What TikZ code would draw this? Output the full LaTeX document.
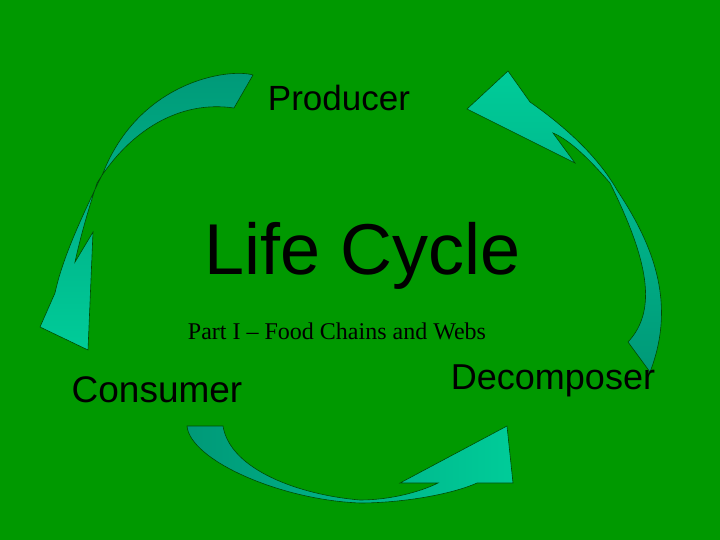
\documentclass[tikz,border=0pt]{standalone}
\usepackage{fontspec}
\setmainfont{Liberation Sans}
\newfontfamily\tnr{Liberation Serif}
\definecolor{bg}{RGB}{0,153,0}
\definecolor{tlight}{RGB}{0,204,153}
\definecolor{tdark}{RGB}{0,153,120}
\tikzset{arr/.style={draw=black!70!green,line width=0.6pt},
 lbl/.style={inner sep=0pt}}
\begin{document}
\begin{tikzpicture}[x=1pt,y=-1pt]
\fill[bg] (0,0) rectangle (720,540);
\useasboundingbox (0,0) rectangle (720,540);
% top-left arrow
\path[arr, top color=tdark, bottom color=tlight]
 (253,75) .. controls (230,68) and (140,80) .. (103,173)
 .. controls (80,220) and (62,260) .. (55,293)
 -- (40,327) -- (88,350) -- (93,232) -- (75,262)
 .. controls (82,230) and (90,205) .. (97,183)
 .. controls (130,130) and (180,100) .. (234,108) -- cycle;
% right arrow
\path[arr, top color=tlight, bottom color=tdark]
 (467,109) -- (508,71) -- (530,102)
 .. controls (570,130) and (600,160) .. (617,190)
 .. controls (650,240) and (678,300) .. (650,372)
 -- (628,342)
 .. controls (658,310) and (648,260) .. (610,183)
 .. controls (590,160) and (570,140) .. (553,133)
 -- (575,163) -- cycle;
% bottom arrow
\path[arr, left color=tdark, right color=tlight]
 (187,426) .. controls (190,460) and (280,500) .. (360,503)
 .. controls (400,503) and (450,495) .. (477,483)
 -- (513,483) -- (507,426) -- (400,483) -- (438,483)
 .. controls (420,492) and (390,500) .. (360,500)
 .. controls (300,495) and (230,470) .. (223,426) -- cycle;
\node[lbl, font=\fontsize{35}{37}\selectfont] (prod) at (339,98) {Producer};
\node[lbl, font=\fontsize{72}{75}\selectfont] (title) at (363,256) {Life Cycle};
\node[lbl, font=\tnr\fontsize{24}{26}\selectfont] (sub) at (337,331) {Part I – Food Chains and Webs};
\node[lbl, font=\fontsize{37}{39}\selectfont] (cons) at (157,390) {Consumer};
\node[lbl, font=\fontsize{36}{38}\selectfont] (dec) at (553,381) {Decomposer};
\end{tikzpicture}
\end{document}
